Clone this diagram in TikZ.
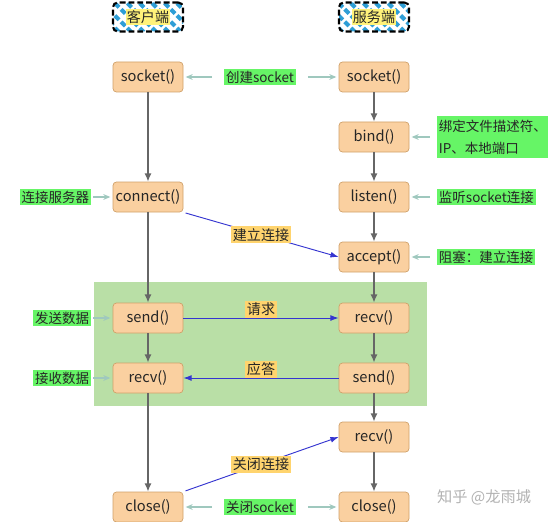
\documentclass[tikz,border=0pt]{standalone}
\usepackage{fontspec}
\setmainfont{Noto Sans CJK SC}
\usepackage{tikz}
\usetikzlibrary{arrows.meta,patterns.meta}
\definecolor{boxfill}{HTML}{FAD0A0}
\definecolor{boxline}{HTML}{D0A068}
\definecolor{notegreen}{HTML}{66F566}
\definecolor{tagorange}{HTML}{FFD46E}
\definecolor{panelgreen}{HTML}{B9DFA6}
\definecolor{hintline}{HTML}{9FC8BE}
\definecolor{msgblue}{HTML}{3535D0}
\definecolor{stripe}{HTML}{2E9ED6}
\definecolor{hdrtextbg}{HTML}{FFF27A}

\begin{document}
\begin{tikzpicture}[x=0.3mm,y=-0.3mm,
  func/.style={draw=boxline,fill=boxfill,rounded corners=3pt,line width=0.6pt,minimum width=70*0.3mm,minimum height=30*0.3mm,inner sep=0pt,font=\fontsize{12.5}{14}\selectfont,text=black!85},
  note/.style={fill=notegreen,inner sep=1.5pt,font=\fontsize{11.5}{13}\selectfont,text=black!85},
  tag/.style={fill=tagorange,inner sep=1.5pt,font=\fontsize{12}{14}\selectfont,text=black!85},
  hdr/.style={draw=black,line width=1.8pt,dash pattern=on 5pt off 2.5pt,rounded corners=4pt,minimum width=70*0.3mm,minimum height=29*0.3mm,pattern={Lines[angle=-45,distance=7.5pt,line width=3.5pt]},pattern color=stripe},
  hdrtext/.style={fill=hdrtextbg,inner sep=1pt,font=\fontsize{12}{14}\selectfont,text=black!85},
  flow/.style={-{Latex[length=7pt,width=6pt]},draw=black!60,line width=1.3pt},
  hint/.style={-{Stealth[length=6pt,width=5pt]},draw=hintline,line width=0.9pt},
  msg/.style={-{Latex[length=7pt,width=5pt]},draw=msgblue,line width=0.8pt},
  wmark/.style={text=black!30,font=\fontsize{13}{15}\selectfont}]
\useasboundingbox (0,0) rectangle (548,522);
\fill[panelgreen] (94,282) rectangle (427,406);

\node[hdr] (H1) at (148,17) {};
\node[hdrtext] (H1a) at (148,17) {客户端};
\node[hdr] (H2) at (374,17) {};
\node[hdrtext] (H2a) at (374,17) {服务端};

\node[func] (C1) at (148,77) {socket()};
\node[func] (C2) at (148,197) {connect()};
\node[func] (C3) at (148,318) {send()};
\node[func] (C4) at (148,378) {recv()};
\node[func] (C5) at (148,507) {close()};

\node[func] (S1) at (374,77) {socket()};
\node[func] (S2) at (374,137) {bind()};
\node[func] (S3) at (374,197) {listen()};
\node[func] (S4) at (374,257) {accept()};
\node[func] (S5) at (374,318) {recv()};
\node[func] (S6) at (374,378) {send()};
\node[func] (S7) at (374,437) {recv()};
\node[func] (S8) at (374,507) {close()};

\node[note] (M1) at (260,77) {创建socket};
\node[note] (M2) at (260,507) {关闭socket};
\node[note,anchor=east] (C2a) at (91,197) {连接服务器};
\node[note,anchor=east] (C3a) at (91,318) {发送数据};
\node[note,anchor=east] (C4a) at (91,378) {接收数据};
\node[note,anchor=west,align=left,font=\fontsize{11.5}{19}\selectfont,inner ysep=3pt] (S2a) at (437,137) {绑定文件描述符、\\IP、本地端口};
\node[note,anchor=west] (S3a) at (437,197) {监听socket连接};
\node[note,anchor=west] (S4a) at (437,257) {阻塞：建立连接};

\node[wmark] (W) at (484,497) {知乎 @龙雨城};

\draw[flow] (C1) -- (C2);
\draw[flow] (C2) -- (C3);
\draw[flow] (C3) -- (C4);
\draw[flow] (C4) -- (C5);
\draw[flow] (S1) -- (S2);
\draw[flow] (S2) -- (S3);
\draw[flow] (S3) -- (S4);
\draw[flow] (S4) -- (S5);
\draw[flow] (S5) -- (S6);
\draw[flow] (S6) -- (S7);
\draw[flow] (S7) -- (S8);

\draw[hint,shorten <=12*0.3mm,shorten >=2pt] (M1) -- (C1);
\draw[hint,shorten <=12*0.3mm,shorten >=2pt] (M1) -- (S1);
\draw[hint,shorten <=12*0.3mm,shorten >=2pt] (M2) -- (C5);
\draw[hint,shorten <=12*0.3mm,shorten >=2pt] (M2) -- (S8);
\draw[hint,shorten <=2pt,shorten >=2pt] (C2a) -- (C2);
\draw[hint,shorten <=2pt,shorten >=2pt] (C3a) -- (C3);
\draw[hint,shorten <=2pt,shorten >=2pt] (C4a) -- (C4);
\draw[hint,shorten <=6pt,shorten >=2pt] (S2a.west) -- (S2);
\draw[hint,shorten <=6pt,shorten >=2pt] (S3a) -- (S3);
\draw[hint,shorten <=6pt,shorten >=2pt] (S4a) -- (S4);

\draw[msg,shorten <=2pt] (C2.south east) -- node[tag,pos=0.5] {建立连接} (S4.west);
\draw[msg] (C3) -- node[tag,above] {请求} (S5);
\draw[msg] (S6) -- node[tag,above] {应答} (C4);
\draw[msg,shorten <=2pt] (C5.north east) -- node[tag,pos=0.5] {关闭连接} (S7.west);
\end{tikzpicture}
\end{document}
